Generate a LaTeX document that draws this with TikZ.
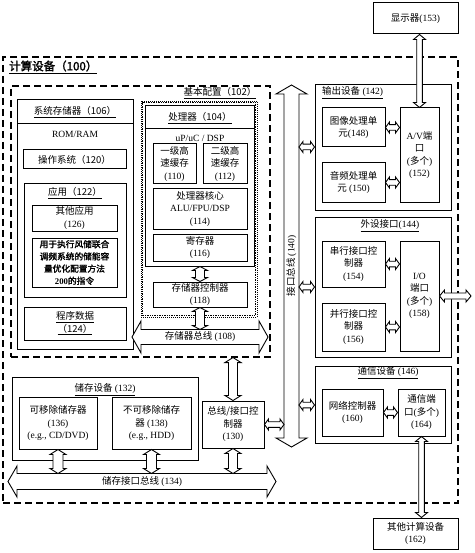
\documentclass[tikz,border=0pt]{standalone}
\usepackage{fontspec}
\setmainfont{Liberation Serif}
\newfontfamily\cjk{Noto Sans CJK SC}[AutoFakeBold=2]
\usetikzlibrary{calc}
\newcommand{\zh}[1]{{\cjk #1}}
% hollow double arrow: #1 body half width, #2 head half width, #3 head length, #4 from, #5 to
\newcommand{\hollow}[5]{%
 \path[arr] let \p1=(#4), \p2=(#5), \n1={atan2(\y2-\y1,\x2-\x1)}, \n2={veclen(\x2-\x1,\y2-\y1)+0pt} in
 [shift={(\x1,\y1)}, rotate=\n1]
 (0pt,0pt) -- (#3pt,#2pt) -- (#3pt,#1pt) -- ({\n2-#3pt},#1pt) -- ({\n2-#3pt},#2pt) -- (\n2,0pt)
 -- ({\n2-#3pt},-#2pt) -- ({\n2-#3pt},-#1pt) -- (#3pt,-#1pt) -- (#3pt,-#2pt) -- cycle;}
% box by corners: [opts]{name}{x1}{y1}{x2}{y2}{text}
\newcommand{\bx}[7][]{\node[box,#1,minimum width={(#5-#3)*1pt},minimum height={(#6-#4)*1pt}] (#2) at ({(#3+#5)/2},{(#4+#6)/2}) {#7};}
\tikzset{
 box/.style={draw, line width=1pt, inner sep=0pt, align=center, font=\fontsize{9.5}{12.5}\selectfont},
 lbl/.style={inner sep=0pt, align=center, font=\fontsize{9.5}{12.5}\selectfont},
 arr/.style={draw, line width=0.9pt, fill=white, line join=miter},
 dashbox/.style={draw, line width=1.1pt, dash pattern=on 7pt off 4pt},
 dotbox/.style={draw, densely dotted, line width=0.7pt},
}
\begin{document}
\begin{tikzpicture}[x=1pt,y=-1pt]
\useasboundingbox (0,0) rectangle (474,553);

% outer computing device
\bx[dashbox]{comp}{3}{57}{458}{503}{}
\node[anchor=west, inner sep=0pt, font=\fontsize{11.5}{13}\selectfont\bfseries] (title) at (9,67) {\underline{\zh{计算设备（100）}}};

% basic configuration
\bx[dashbox]{basic}{11}{86}{270}{357}{}
\node[lbl] (basiclbl) at (220,93) {\underline{\zh{基本配置（102）}}};

% system memory
\bx{sysmem}{17}{100}{133}{349}{}
\node[lbl] (sysmemlbl) at (75,112) {\underline{\zh{系统存储器（106）}}};
\draw[line width=1pt] (17,124) -- (133,124);
\node[lbl] (romram) at (75,134) {ROM/RAM};
\bx{os}{23}{150}{126}{169}{\zh{操作系统（120）}}
\bx{app}{24}{184}{126}{297}{}
\node[lbl] (applbl) at (75,193) {\underline{\zh{应用（122）}}};
\bx{otherapp}{32}{205}{117}{231}{\zh{其他应用}\\(126)}
\bx[font=\fontsize{8.7}{12.2}\selectfont\bfseries]{instr}{32}{238}{117}{287}{\zh{用于执行风储联合}\\\zh{调频系统的储能容}\\\zh{量优化配置方法}\\200\zh{的指令}}
\bx{pdata}{24}{307}{126}{340}{\underline{\zh{程序数据}}\\\underline{\zh{（124）}}}

% processor group
\bx[dotbox, line width=0.7pt]{procgrp}{141}{101}{257}{317}{}
\draw[dotbox] ($(procgrp.south west)+(2,-2)$) rectangle ($(procgrp.north east)+(-2,2)$);
\bx[fill=white]{proc}{145}{106}{254}{266}{}
\node[lbl] (proclbl) at (200,118) {\underline{\zh{处理器（104）}}};
\draw[line width=1pt] (145,129) -- (254,129);
\node[lbl] (upuc) at (200,138) {uP/uC / DSP};
\bx{l1}{153}{144}{196}{184}{\zh{一级高}\\\zh{速缓存}\\(110)}
\bx{l2}{203}{144}{247}{184}{\zh{二级高}\\\zh{速缓存}\\(112)}
\bx{core}{153}{189}{247}{229}{\zh{处理器核心}\\ALU/FPU/DSP\\(114)}
\bx{reg}{153}{234}{247}{261}{\zh{寄存器}\\(116)}
\bx{mctrl}{153}{282}{247}{307}{\zh{存储器控制器}\\(118)}

% memory bus 108
\coordinate (b108l) at (132,337);
\coordinate (b108r) at (268,337);
\hollow{7.5}{16}{9}{b108l}{b108r}
\node[lbl] (b108lbl) at (200,337) {\zh{存储器总线} (108)};
\coordinate (b108t) at (200,329.5);
\hollow{4.5}{7.5}{4}{mctrl.north |- proc.south}{mctrl.north}
\hollow{4.5}{7.5}{4}{mctrl.south}{b108t}

% interface bus 140
\coordinate (b140t) at (291.5,85);
\coordinate (b140b) at (291.5,447);
\hollow{7.5}{15.5}{9}{b140b}{b140t}
\node[lbl, rotate=90] (b140lbl) at (291.5,266) {\zh{接口总线} (140)};

% output device
\bx{outdev}{315}{85}{451}{210}{}
\node[lbl, anchor=west] (outlbl) at (322,93) {\underline{\zh{输出设备} (142)}};
\bx{img}{322}{108}{385}{147}{\zh{图像处理单}\\\zh{元}(148)}
\bx{aud}{322}{163}{385}{202}{\zh{音频处理单}\\\zh{元} (150)}
\bx{av}{400}{108}{439}{202}{A/V\zh{端}\\\zh{口}\\(\zh{多个})\\(152)}
\bx{disp}{373}{3}{458}{34}{\zh{显示器}(153)}
\hollow{2.8}{5.5}{4}{img.east}{img.east -| av.west}
\hollow{2.8}{5.5}{4}{aud.east}{aud.east -| av.west}
\hollow{2.8}{6}{5}{av.north}{av.north |- disp.south}

% peripheral interface
\bx{peri}{315}{217}{451}{357}{}
\node[lbl] (perilbl) at (390,226) {\underline{\zh{外设接口}(144)}};
\bx{ser}{322}{241}{385}{287}{\zh{串行接口控}\\\zh{制器}\\(154)}
\bx{par}{322}{303}{385}{351}{\zh{并行接口控}\\\zh{制器}\\(156)}
\bx{io}{400}{241}{439}{351}{I/O\\\zh{端口}\\(\zh{多个})\\(158)}
\hollow{2.8}{5.5}{4}{ser.east}{ser.east -| io.west}
\hollow{2.8}{5.5}{4}{par.east}{par.east -| io.west}
\coordinate (ioout) at (471,296);
\hollow{3}{6}{5}{io.east}{ioout}

% communication device
\bx{comm}{315}{366}{451}{443}{}
\node[lbl] (commlbl) at (388,373) {\underline{\zh{通信设备} (146)}};
\bx{net}{322}{389}{383}{436}{\zh{网络控制器}\\(160)}
\bx{cport}{398}{389}{445}{436}{\zh{通信端}\\\zh{口}(\zh{多个})\\(164)}
\bx{othercd}{373}{518}{458}{549}{\zh{其他计算设备}\\(162)}
\hollow{2.8}{5.5}{4}{net.east}{net.east -| cport.west}
\hollow{2.8}{6}{5}{cport.south}{cport.south |- othercd.north}

% bus 140 to devices
\coordinate (b140o) at (299,147);
\coordinate (b140p) at (299,287);
\coordinate (b140c) at (299,405);
\hollow{2.8}{5.5}{4}{b140o}{b140o -| outdev.west}
\hollow{2.8}{5.5}{4}{b140p}{b140p -| peri.west}
\hollow{2.8}{5.5}{4}{b140c}{b140c -| comm.west}

% storage
\bx{stor}{12}{377}{198}{460}{}
\node[lbl] (storlbl) at (105,390) {\underline{\zh{储存设备} (132)}};
\bx{rem}{19}{397}{97}{449}{\zh{可移除储存器}\\(136)\\(e.g., CD/DVD)}
\bx{nrem}{112}{397}{191}{449}{\zh{不可移除储存}\\\zh{器} (138)\\(e.g., HDD)}
\bx{bic}{202}{401}{264}{448}{\zh{总线/接口控}\\\zh{制器}\\(130)}

% storage interface bus 134
\coordinate (b134l) at (8,481.5);
\coordinate (b134r) at (276,481.5);
\hollow{8}{15.5}{9}{b134l}{b134r}
\node[lbl] (b134lbl) at (142,482) {\zh{储存接口总线} (134)};
\coordinate (b134a) at (58,473.5);
\coordinate (b134b) at (151.5,473.5);
\coordinate (b134c) at (233,473.5);
\hollow{5}{8}{5}{rem.south}{b134a}
\hollow{5}{8}{5}{nrem.south}{b134b}
\hollow{4.5}{8}{5}{bic.south}{b134c}
\hollow{4.5}{8}{5}{bic.north}{bic.north |- basic.south}
\coordinate (b140l) at (284,424.5);
\hollow{2.8}{5.5}{4}{bic.east}{b140l}
\end{tikzpicture}
\end{document}
